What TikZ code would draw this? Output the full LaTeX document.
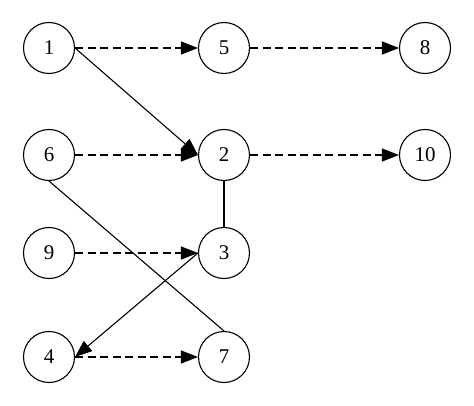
\documentclass[tikz,border=0pt]{standalone}
\usepackage{fontspec}
\setmainfont{Liberation Serif}
\usetikzlibrary{arrows.meta}
\begin{document}
\begin{tikzpicture}[x=1pt,y=-1pt,
  vnode/.style={circle,draw,line width=1.1pt,minimum size=51pt,inner sep=0pt,font=\fontsize{21}{21}\selectfont},
  darrow/.style={line width=1.1pt,dash pattern=on 8pt off 4.5pt,-{Triangle[length=17pt,width=13pt]}},
  sarrow/.style={line width=1.1pt,-{Triangle[length=17pt,width=13pt]}},
  sline/.style={line width=1.1pt}]
\useasboundingbox (0,0) rectangle (474,406);
\node[vnode] (n1) at (49,48) {1};
\node[vnode] (n5) at (224,48) {5};
\node[vnode] (n8) at (425,48) {8};
\node[vnode] (n6) at (49,155) {6};
\node[vnode] (n2) at (224,155) {2};
\node[vnode] (n10) at (425,155) {10};
\node[vnode] (n9) at (49,253) {9};
\node[vnode] (n3) at (224,253) {3};
\node[vnode] (n4) at (49,357) {4};
\node[vnode] (n7) at (224,357) {7};
\draw[darrow] (n1.east) -- (n5.west);
\draw[darrow] (n5.east) -- (n8.west);
\draw[darrow] (n6.east) -- (n2.west);
\draw[darrow] (n2.east) -- (n10.west);
\draw[darrow] (n9.east) -- (n3.west);
\draw[darrow] (n4.east) -- (n7.west);
\draw[sarrow] (n1.east) -- (n2.west);
\draw[sarrow] (n3.west) -- (n4.east);
\draw[sline] (n2.south) -- (n3.north);
\draw[sline] (n6.south) -- (n7.north);
\end{tikzpicture}
\end{document}
